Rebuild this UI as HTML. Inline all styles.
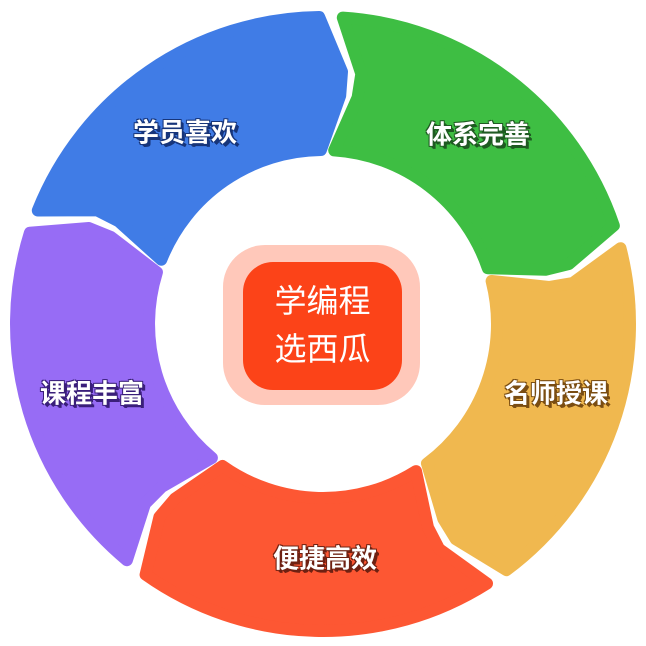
<!DOCTYPE html>
<html><head><meta charset="utf-8">
<style>
html,body{margin:0;padding:0;background:#fff;}
#wrap{position:relative;width:646px;height:646px;overflow:hidden;font-family:"Liberation Sans","Noto Sans CJK SC",sans-serif;}
svg{position:absolute;left:0;top:0;}
.lbl{position:absolute;color:#fff;font-size:26px;font-weight:bold;white-space:nowrap;transform:translate(-50%,-50%);}
.box1{position:absolute;left:223px;top:245px;width:197px;height:160px;background:#FFC8BA;border-radius:42px;}
.box2{position:absolute;left:243px;top:262px;width:159px;height:128px;background:#FC4318;border-radius:30px;color:#fff;font-size:32px;text-align:center;line-height:48px;padding-top:15px;box-sizing:border-box;}
</style></head><body>
<div id="wrap">
<svg id="s" width="646" height="646" viewBox="0 0 646 646"></svg>
<div class="box1"></div>
<div class="box2">学编程<br>选西瓜</div>
<div class="lbl" style="left:185px;top:131px;text-shadow:2px 2px 0 #17357a,-1px -1px 0 #17357a,1px -1px 0 #17357a,-1px 1px 0 #17357a,3px 3px 0 #17357a;">学员喜欢</div>
<div class="lbl" style="left:478px;top:133px;text-shadow:2px 2px 0 #1f5a22,-1px -1px 0 #1f5a22,1px -1px 0 #1f5a22,-1px 1px 0 #1f5a22,3px 3px 0 #1f5a22;">体系完善</div>
<div class="lbl" style="left:556px;top:392px;text-shadow:2px 2px 0 #7a4d12,-1px -1px 0 #7a4d12,1px -1px 0 #7a4d12,-1px 1px 0 #7a4d12,3px 3px 0 #7a4d12;">名师授课</div>
<div class="lbl" style="left:325px;top:557px;text-shadow:2px 2px 0 #6e2112,-1px -1px 0 #6e2112,1px -1px 0 #6e2112,-1px 1px 0 #6e2112,3px 3px 0 #6e2112;">便捷高效</div>
<div class="lbl" style="left:92px;top:392px;text-shadow:2px 2px 0 #3a1f7a,-1px -1px 0 #3a1f7a,1px -1px 0 #3a1f7a,-1px 1px 0 #3a1f7a,3px 3px 0 #3a1f7a;">课程丰富</div>
</div>
<script>
(function(){
var cx=323,cy=324,ro=307,ri=174,rm=241,g=2.2,d=5;
var cols=["#3EBE43","#F0B84F","#FD5733","#976CF5","#407CE6"];
function p(r,a){a=a*Math.PI/180;return (cx+r*Math.sin(a)).toFixed(1)+","+(cy-r*Math.cos(a)).toFixed(1);}
var s="";
for(var k=0;k<5;k++){
 var a0=1.5+72*k+g,a1=1.5+72*(k+1)-g;
 var dstr="M"+p(ro,a0)+" A"+ro+","+ro+" 0 0 1 "+p(ro,a1)+" L"+p(rm+12,a1+d)+" L"+p(rm-12,a1+d)+" L"+p(ri,a1)+" A"+ri+","+ri+" 0 0 0 "+p(ri,a0)+" L"+p(rm-12,a0+d)+" L"+p(rm+12,a0+d)+" Z";
 s+='<path d="'+dstr+'" fill="'+cols[k]+'" stroke="'+cols[k]+'" stroke-width="12" stroke-linejoin="round"/>';
}
document.getElementById("s").innerHTML=s;
})();
</script>
</body></html>
